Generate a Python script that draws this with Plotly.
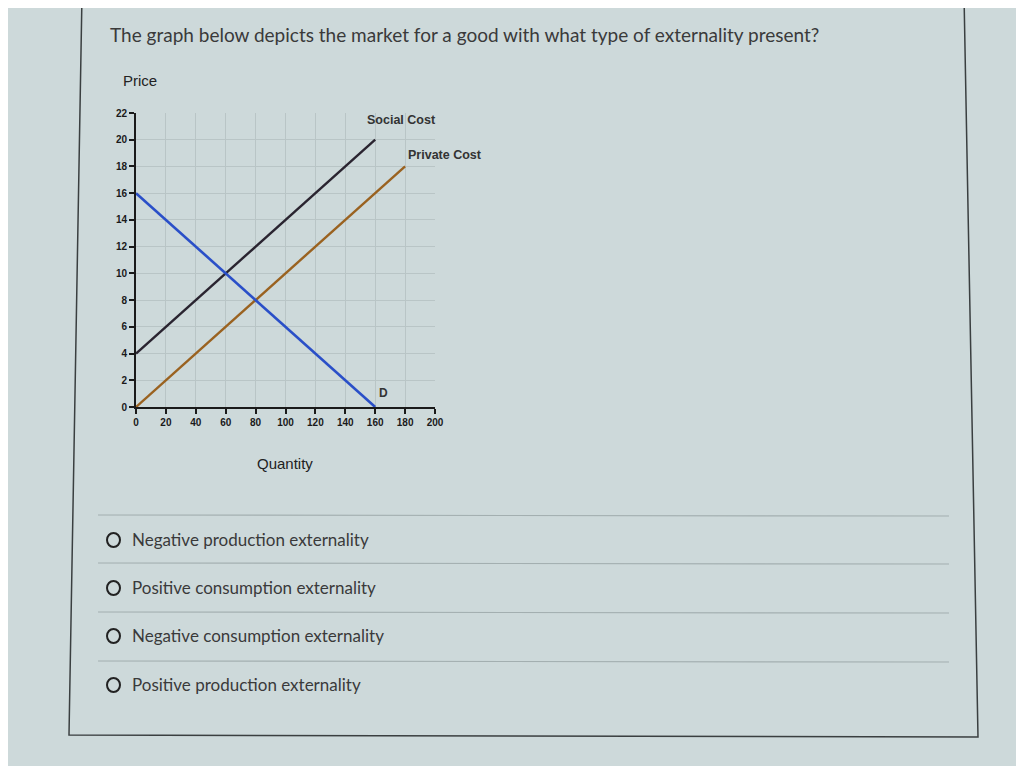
import plotly.graph_objects as go

# ---- data ----
q_social = [0, 160]
p_social = [4, 20]
q_private = [0, 180]
p_private = [0, 18]
q_demand = [0, 160]
p_demand = [16, 0]

x_ticks = [0, 20, 40, 60, 80, 100, 120, 140, 160, 180, 200]
y_ticks = [0, 2, 4, 6, 8, 10, 12, 14, 16, 18, 20, 22]

title_text = "The graph below depicts the market for a good with what type of externality present?"
options = ["Negative production externality",
           "Positive consumption externality",
           "Negative consumption externality",
           "Positive production externality"]

# ---- geometry (reference pixels; page has an 8px body offset) ----
OFF = 8
W, H = 1024 - 2 * OFF, 774 - 2 * OFF
L, R, T, B = 136, 435, 113, 407


def px(x):
    return (x - L) / (R - L)


def py(y):
    return (B - y) / (B - T)


fig = go.Figure()
fig.add_trace(go.Scatter(x=q_social, y=p_social, mode="lines",
                         line=dict(color="#2a2430", width=2.4), showlegend=False))
fig.add_trace(go.Scatter(x=q_private, y=p_private, mode="lines",
                         line=dict(color="#9a6220", width=2.4), showlegend=False))
fig.add_trace(go.Scatter(x=q_demand, y=p_demand, mode="lines",
                         line=dict(color="#2a4fc8", width=2.6), showlegend=False))

bg = "#cdd9da"
tf = dict(size=10, color="#1a1a1a", weight="bold")
fig.update_layout(
    width=W, height=H,
    margin=dict(l=L - OFF, r=(W + OFF) - R, t=T - OFF, b=(H + OFF) - B),
    paper_bgcolor=bg, plot_bgcolor=bg,
    font=dict(family="Liberation Sans", color="#222"),
    xaxis=dict(range=[0, 200], tickvals=x_ticks, showgrid=True, gridcolor="#b9c5c6",
               gridwidth=1, zeroline=False, showline=True, linecolor="#1a1a1a", linewidth=1.8,
               ticks="outside", ticklen=5, tickcolor="#1a1a1a", tickwidth=1.8,
               tickfont=tf),
    yaxis=dict(range=[0, 22], tickvals=y_ticks, showgrid=True, gridcolor="#b9c5c6",
               gridwidth=1, zeroline=False, showline=True, linecolor="#1a1a1a", linewidth=1.8,
               ticks="outside", ticklen=5, tickcolor="#1a1a1a", tickwidth=1.8,
               tickfont=tf),
)

ann = []
ann.append(dict(text=title_text, x=px(108), y=py(35), xref="paper", yref="paper",
                xanchor="left", yanchor="middle", showarrow=False,
                font=dict(family="Lato", size=19, color="#3a3a3a")))
ann.append(dict(text="Price", x=px(121), y=py(80), xref="paper", yref="paper",
                xanchor="left", yanchor="middle", showarrow=False,
                font=dict(size=15, color="#222")))
ann.append(dict(text="Quantity", x=px(285), y=py(463), xref="paper", yref="paper",
                xanchor="center", yanchor="middle", showarrow=False,
                font=dict(size=15, color="#222")))
ann.append(dict(text="<b>Social Cost</b>", x=px(401), y=py(120), xref="paper", yref="paper",
                xanchor="center", yanchor="middle", showarrow=False,
                font=dict(size=12.5, color="#333")))
ann.append(dict(text="<b>Private Cost</b>", x=px(445), y=py(155), xref="paper", yref="paper",
                xanchor="center", yanchor="middle", showarrow=False,
                font=dict(size=12.5, color="#333")))
ann.append(dict(text="<b>D</b>", x=px(383), y=py(393), xref="paper", yref="paper",
                xanchor="center", yanchor="middle", showarrow=False,
                font=dict(size=12, color="#333")))

shapes = []
# frame (slightly slanted photo)
shapes.append(dict(type="path", xref="paper", yref="paper",
                   path=f"M {px(82)},{py(-5)} L {px(69)},{py(735)} L {px(978)},{py(737)} L {px(964)},{py(-5)}",
                   line=dict(color="#3a3f40", width=1.5), fillcolor="rgba(0,0,0,0)"))

sep_y = [515, 563, 612, 661]
for yy in sep_y:
    shapes.append(dict(type="line", xref="paper", yref="paper",
                       x0=px(98), x1=px(949), y0=py(yy), y1=py(yy + 1),
                       line=dict(color="#a3afb0", width=1.2)))

opt_y = [540, 588, 636, 685]
for yy, txt in zip(opt_y, options):
    shapes.append(dict(type="circle", xref="paper", yref="paper",
                       x0=px(107), x1=px(120), y0=py(yy - 7), y1=py(yy + 7),
                       line=dict(color="#222", width=2), fillcolor="rgba(0,0,0,0)"))
    ann.append(dict(text=txt, x=px(130), y=py(yy - 1), xref="paper", yref="paper",
                    xanchor="left", yanchor="middle", showarrow=False,
                    font=dict(family="Lato", size=17, color="#3a3a3a")))

fig.update_layout(annotations=ann, shapes=shapes)
fig.write_html("out.html")
